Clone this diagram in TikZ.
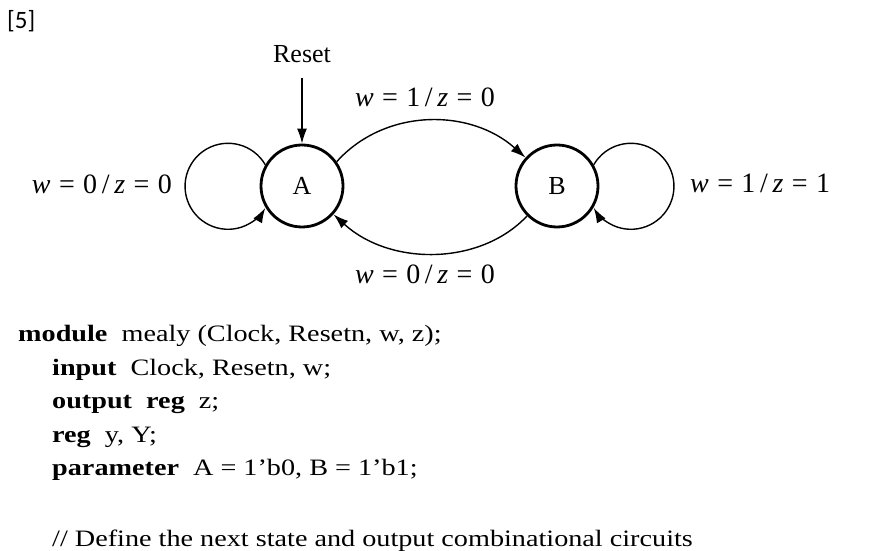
\documentclass[tikz,border=0pt]{standalone}
\usepackage{fontspec}
\usepackage{tikz}
\setmainfont{Liberation Serif}
\newfontfamily\codefont[FakeStretch=1.2]{Liberation Serif}
\newfontfamily\tagfont{Carlito}
\usetikzlibrary{arrows.meta, positioning}
\newcommand{\wzlabel}[2]{\textit{w}\hspace{0.3em}=\hspace{0.3em}#1\,/\,\textit{z}\hspace{0.3em}=\hspace{0.3em}#2}

\begin{document}
\begin{tikzpicture}[x=1pt, y=1pt,
    statenode/.style={circle, draw, line width=2.8pt, minimum size=82pt, inner sep=0pt, font=\fontsize{26}{30}\selectfont},
    trans/.style={line width=1.4pt, -{Latex[length=15pt,width=10pt]}},
    edgelabel/.style={inner sep=0pt, font=\fontsize{26}{30}\selectfont},
    wzlabelnode/.style={inner sep=0pt, font=\fontsize{28}{30}\selectfont},
    codeline/.style={anchor=base west, inner sep=0pt, font=\codefont\fontsize{23.5}{30}\selectfont}]
        \useasboundingbox (0,0) rectangle (879,551);
        % Question number
        \node[anchor=base west, inner sep=0pt, font=\tagfont\fontsize{25}{28}\selectfont] (qnum) at (7,522) {[5]};

        % States
        \node[statenode] (A) at (302,365) {A};
        \node[statenode] (B) at (557,365) {B};

        % Reset input
        \node[edgelabel, anchor=base] (reset) at (302,488) {Reset};
        \coordinate (resetin) at (302,473);
        \draw[trans] (resetin) -- (A.north);

        % Transitions between A and B
        \draw[trans] (A.35) .. controls (385,443) and (470,443) .. (B.138);
        \draw[trans] (B.225) .. controls (480,285) and (390,285) .. (A.318);

        % Self loops
        \draw[trans] (A.150) arc[start angle=30, end angle=330, radius=43];
        \draw[trans] (B.30) arc[start angle=150, end angle=-150, radius=43];

        % Transition labels
        \node[wzlabelnode, anchor=base] (ab) at (425,444) {\wzlabel{1}{0}};
        \node[wzlabelnode, anchor=base] (ba) at (425,267) {\wzlabel{0}{0}};
        \node[wzlabelnode, anchor=base east] (aa) at (172,357) {\wzlabel{0}{0}};
        \node[wzlabelnode, anchor=base west] (bb) at (690,358) {\wzlabel{1}{1}};

        % Verilog code
        \node[codeline] (l1) at (18,209) {\textbf{module}\ \ mealy (Clock, Resetn, w, z);};
        \node[codeline] (l2) at (52,175.5) {\textbf{input}\ \ Clock, Resetn, w;};
        \node[codeline] (l3) at (52,142) {\textbf{output}\ \ \textbf{reg}\ \ z;};
        \node[codeline] (l4) at (52,108.5) {\textbf{reg}\ \ y, Y;};
        \node[codeline] (l5) at (52,75) {\textbf{parameter}\ \ A = 1’b0, B = 1’b1;};
        \node[codeline] (l6) at (52,4) {// Define the next state and output combinational circuits};
    \end{tikzpicture}
\end{document}
